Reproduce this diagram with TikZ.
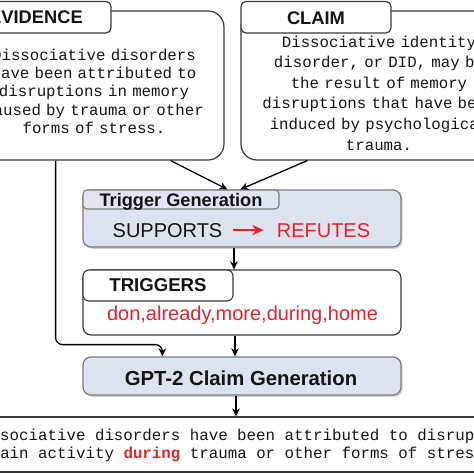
\documentclass[tikz,border=0pt]{standalone}
\usepackage{fontspec}
\setmainfont{Liberation Sans}
\newfontfamily\monofont{Liberation Mono}
\usetikzlibrary{arrows.meta,shadows}
\definecolor{boxblue}{HTML}{DCE3EE}
\definecolor{tabblue}{HTML}{DFE6F1}
\definecolor{boxgray}{HTML}{7C7C7C}
\definecolor{boxdark}{HTML}{3A3A3A}
\definecolor{myred}{HTML}{E3222B}
\definecolor{txt}{HTML}{151515}
\begin{document}
\begin{tikzpicture}[x=1pt,y=-1pt,
  panel/.style={draw=boxdark, line width=1.2pt, rounded corners=16pt, fill=white, inner sep=0pt},
  hdr/.style={draw=boxdark, line width=1.2pt, rounded corners=5pt, fill=white, inner sep=0pt},
  bluebox/.style={draw=boxgray, line width=1.3pt, rounded corners=8pt, fill=boxblue, inner sep=0pt,
    drop shadow={shadow xshift=1.6pt, shadow yshift=-1.8pt, fill=black!40, opacity=0.45}},
  bluetab/.style={draw=boxgray, line width=1.1pt, rounded corners=4pt, fill=tabblue, inner sep=0pt},
  whitebox/.style={draw=boxdark, line width=1.2pt, rounded corners=8pt, fill=white, inner sep=0pt},
  whitetab/.style={draw=boxdark, line width=1.1pt, rounded corners=6pt, fill=white, inner sep=0pt},
  hdrtext/.style={font=\fontsize{18.3}{20}\selectfont\bfseries, text=txt, inner sep=0pt, anchor=base},
  bodytext/.style={font=\fontsize{20}{22}\selectfont, inner sep=0pt, anchor=base},
  monotext/.style={inner sep=0pt, text=txt, anchor=base, align=center, text width=272pt},
  arr/.style={draw=black, line width=1.3pt, -{Stealth[length=8pt,width=7.5pt]}}
]
\useasboundingbox (0,0) rectangle (474,474);
\clip (0,0) rectangle (474,474);

% evidence panel
\node[panel, minimum width=424pt, minimum height=149pt] (ev) at (12,85.5) {};
\node[hdr, minimum width=150pt, minimum height=31.5pt] (evh) at (36,17.25) {};
\node[hdrtext] (evt) at (36,23.5) {EVIDENCE};
\node[monotext, font=\monofont\fontsize{15.75}{18.4}\selectfont] (evx) at (94,60)
  {Dissociative disorders\\have been attributed to\\disruptions in memory\\caused by trauma or other\\forms of stress.};

% claim panel
\node[panel, minimum width=459pt, minimum height=149pt] (cl) at (470.5,85.5) {};
\node[hdr, minimum width=150pt, minimum height=31.5pt] (clh) at (316,17.25) {};
\node[hdrtext] (clt) at (316,24) {CLAIM};
\node[monotext, font=\monofont\fontsize{15.75}{20.6}\selectfont] (clx) at (379,47)
  {Dissociative identity\\disorder, or DID, may be\\the result of memory\\disruptions that have been\\induced by psychological\\trauma.};

% trigger generation
\node[bluebox, minimum width=318pt, minimum height=57pt] (tg) at (242,218.5) {};
\node[bluetab, minimum width=196pt, minimum height=19pt] (tgh) at (181,199.5) {};
\node[hdrtext, font=\fontsize{18.2}{20}\selectfont\bfseries] (tgt) at (181,206.7) {Trigger Generation};
\node[bodytext, text=txt] (sup) at (167.5,237) {SUPPORTS};
\node[bodytext, text=myred] (ref) at (323.5,237) {REFUTES};
\draw[draw=myred, line width=2.2pt, -{Stealth[length=11pt,width=10pt,inset=3pt]},
  shorten <=10pt, shorten >=13pt] (sup.east) -- (ref.west);

% triggers
\node[whitebox, minimum width=318pt, minimum height=65pt] (tr) at (242,302.5) {};
\node[whitetab, minimum width=150pt, minimum height=31pt] (trh) at (158,285.5) {};
\node[hdrtext, font=\fontsize{18.6}{20}\selectfont\bfseries] (trt) at (158,291.5) {TRIGGERS};
\node[bodytext, text=myred] (trw) at (242.5,320.5) {don,already,more,during,home};

% GPT-2
\node[bluebox, minimum width=318pt, minimum height=38pt] (gpt) at (242,376) {};
\node[hdrtext, font=\fontsize{20.3}{22}\selectfont\bfseries] (gptt) at (241,385) {GPT-2 Claim Generation};

% output
\node[draw=boxdark, line width=1.2pt, fill=white, inner sep=0pt, minimum width=520pt, minimum height=55pt] (out) at (237,444.5) {};
\node[inner sep=0pt, anchor=base west, text=txt, font=\monofont\fontsize{15.8}{18}\selectfont] (out1) at (-28.4,440)
  {Dissociative disorders have been attributed to disruptions in};
\node[inner sep=0pt, anchor=base west, text=txt, font=\monofont\fontsize{15.8}{18}\selectfont] (out2) at (-18.9,458.5)
  {brain activity \textcolor{myred}{\textbf{during}} trauma or other forms of stress.};

% connectors
\draw[arr] ([xshift=-54pt]ev.south east) -- ([xshift=145pt]tg.north west);
\draw[arr] ([xshift=67pt]cl.south west) -- ([xshift=158pt]tg.north west);
\draw[arr] ([xshift=-8pt]tg.south) -- ([xshift=-8pt]tg.south |- tr.north);
\draw[arr] ([xshift=-7pt]tr.south) -- ([xshift=-7pt]tr.south |- gpt.north);
\draw[arr] ([xshift=-6pt]gpt.south) -- ([xshift=-6pt]gpt.south |- out.north);
\draw[arr, rounded corners=7pt] ([xshift=-169pt]ev.south east) -- ++(0,184) -| ([xshift=80pt]gpt.north west);
\end{tikzpicture}
\end{document}
